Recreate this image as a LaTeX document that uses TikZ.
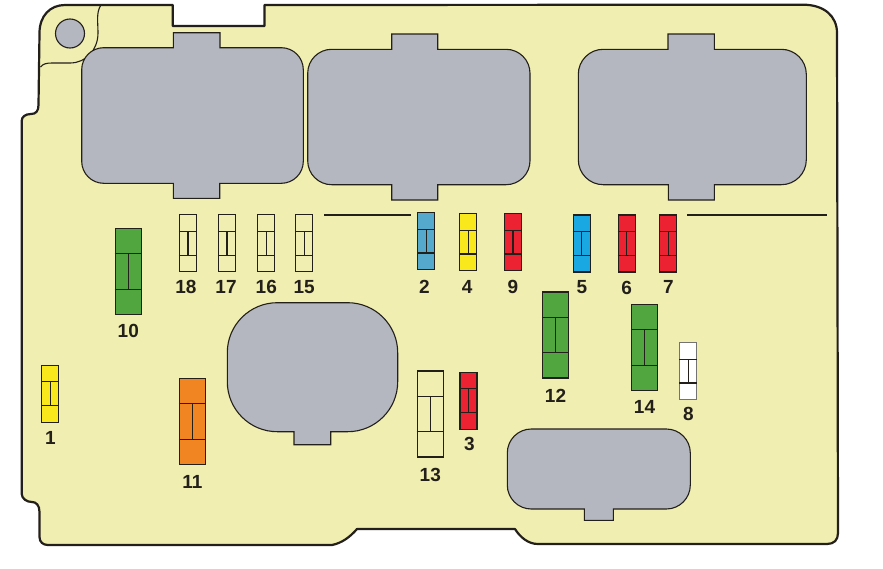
\documentclass[tikz,border=0pt]{standalone}
\usepackage{fontspec}
\setmainfont{Liberation Sans}
\usepackage{tikz}
\usetikzlibrary{positioning,calc}
\definecolor{boardcol}{HTML}{F0EEB0}
\definecolor{greycol}{HTML}{B4B7BF}
\definecolor{inkcol}{HTML}{231F1A}
\definecolor{greencol}{HTML}{51A63F}
\definecolor{tealcol}{HTML}{55A9CC}
\definecolor{cyancol}{HTML}{1AA8E2}
\definecolor{yellowcol}{HTML}{F9E81C}
\definecolor{redcol}{HTML}{EC2232}
\definecolor{orangecol}{HTML}{F08522}
\newcommand{\fuselines}[1]{
    \draw[fuseline] ($(#1.north west)!0.295!(#1.south west)$) -- ($(#1.north east)!0.295!(#1.south east)$);
    \draw[fuseline] ($(#1.north west)!0.705!(#1.south west)$) -- ($(#1.north east)!0.705!(#1.south east)$);
    \draw[fuseline] ($(#1.north)!0.295!(#1.south)$) -- ($(#1.north)!0.705!(#1.south)$);
}

\begin{document}
\begin{tikzpicture}[
x=1pt, y=-1pt,
board/.style={draw=inkcol, fill=boardcol, line width=2.2pt, line join=round},
thinline/.style={draw=inkcol, line width=1.1pt},
housing/.style={draw=inkcol, fill=greycol, line width=1.1pt},
fuseline/.style={draw=inkcol, line width=1.1pt},
smallfuse/.style={rectangle, draw=inkcol, line width=1.3pt, inner sep=0pt, minimum width=17pt, minimum height=57pt},
largefuse/.style={rectangle, draw=inkcol, line width=1.3pt, inner sep=0pt, minimum width=26pt, minimum height=86pt},
numlabel/.style={inner sep=0pt, text=inkcol, font=\fontsize{19}{21}\selectfont\bfseries}
]
    \useasboundingbox (0,0) rectangle (883,568);

    %Board
    \draw[board] (65,5) -- (172.7,5) -- (172.7,26) -- (264.5,26) -- (264.5,5) -- (803,4.7)
        .. controls (824,4.7) and (837,16) .. (837,33) -- (838,533)
        .. controls (838,540) and (834,544) .. (827,544) -- (538,544)
        .. controls (528,544) and (520,537) .. (515,529) -- (357,529)
        .. controls (350,537) and (342,543) .. (332,545) -- (48,545)
        .. controls (43,545) and (39.5,542) .. (39.5,537) -- (39.5,512)
        .. controls (39.5,505) and (36,502) .. (32,502)
        .. controls (27,502) and (22,499) .. (21.7,494) -- (21.7,121)
        .. controls (21.7,117) and (25,114) .. (31,114)
        .. controls (36,114) and (38.5,111) .. (38.5,105) -- (39.5,33)
        .. controls (39.5,16) and (50,5) .. (65,5) -- cycle;
    \draw[thinline] (40.5,67) .. controls (43,64) and (46,63) .. (52,63) -- (70,63)
        .. controls (86,63) and (98,50) .. (98,33) .. controls (98,22) and (96,12) .. (101,5);
    \draw[housing] (70,33.5) circle [radius=14.5pt];

    %Housings
    \draw[housing] (173.3,32.7) -- (220,32.7) -- (220,47.7) [rounded corners=22pt] -- (303.3,47.7)
        -- (303.3,183.3) [sharp corners] -- (219.7,183.3) -- (219.7,198.3) -- (173.3,198.3) -- (173.3,183.3)
        [rounded corners=22pt] -- (81.7,183.3) -- (81.7,47.7) [sharp corners] -- (173.3,47.7) -- cycle;
    \draw[housing] (391.7,34) -- (437.7,34) -- (437.7,49.3) [rounded corners=24pt] -- (530,49.3)
        -- (530,184.7) [sharp corners] -- (437.7,184.7) -- (437.7,200) -- (391.7,200) -- (391.7,184.7)
        [rounded corners=24pt] -- (307.7,184.7) -- (307.7,49.3) [sharp corners] -- (391.7,49.3) -- cycle;
    \draw[housing] (668,34) -- (714.3,34) -- (714.3,49.3) [rounded corners=25pt] -- (806.3,49.3)
        -- (806.3,184.7) [sharp corners] -- (714.3,184.7) -- (714.3,200) -- (668.3,200) -- (668.3,184.7)
        [rounded corners=25pt] -- (578.3,184.7) -- (578.3,49.3) [sharp corners] -- (668,49.3) -- cycle;
    \draw[housing] (312,302.7) [rounded corners=50pt] -- (397.7,302.7) -- (397.7,431.7) [sharp corners]
        -- (330.7,431.7) -- (330.7,444.7) -- (294,444.7) -- (294,431.7)
        [rounded corners=50pt] -- (227.3,431.7) -- (227.3,302.7) [sharp corners] -- cycle;
    \draw[housing] (598,429) [rounded corners=24pt] -- (690.3,429) -- (690.3,509) [sharp corners]
        -- (613.3,509) -- (613.3,520.3) -- (584.3,520.3) -- (584.3,509)
        [rounded corners=24pt] -- (507.3,509) -- (507.3,429) [sharp corners] -- cycle;

    %Nodes
    \node[smallfuse, fill=boardcol] (f18) at (188,243.3) {};
    \node[smallfuse, fill=boardcol] (f17) at (227,243.3) {};
    \node[smallfuse, fill=boardcol] (f16) at (266.3,243.3) {};
    \node[smallfuse, fill=boardcol] (f15) at (304.2,243.3) {};
    \node[largefuse, fill=greencol] (f10) at (128.3,271.3) {};
    \node[smallfuse, fill=tealcol] (f2) at (426.3,241) {};
    \node[smallfuse, fill=yellowcol] (f4) at (468.2,242) {};
    \node[smallfuse, fill=redcol] (f9) at (513,242) {};
    \node[smallfuse, fill=cyancol] (f5) at (581.8,243.5) {};
    \node[smallfuse, fill=redcol] (f6) at (626.7,243.5) {};
    \node[smallfuse, fill=redcol] (f7) at (668.3,243.5) {};
    \node[largefuse, fill=greencol] (f12) at (555.5,335) {};
    \node[largefuse, fill=greencol] (f14) at (644.5,347.5) {};
    \node[smallfuse, fill=white, draw=black!55] (f8) at (688.3,371) {};
    \node[smallfuse, fill=redcol] (f3) at (468.5,400.7) {};
    \node[largefuse, fill=boardcol] (f13) at (430.3,414) {};
    \node[smallfuse, fill=yellowcol] (f1) at (50.3,393.7) {};
    \node[largefuse, fill=orangecol] (f11) at (192.5,421.3) {};

    %Labels
    \node[numlabel, below=8pt of f18, xshift=-2pt] (n18) {18};
    \node[numlabel, below=8pt of f17, xshift=-1pt] (n17) {17};
    \node[numlabel, below=8pt of f16] (n16) {16};
    \node[numlabel, below=8pt of f15] (n15) {15};
    \node[numlabel, below=9pt of f10] (n10) {10};
    \node[numlabel, below=10pt of f2, xshift=-2pt] (n2) {2};
    \node[numlabel, below=9pt of f4, xshift=-1pt] (n4) {4};
    \node[numlabel, below=9pt of f9] (n9) {9};
    \node[numlabel, below=8pt of f5] (n5) {5};
    \node[numlabel, below=8pt of f6] (n6) {6};
    \node[numlabel, below=8pt of f7] (n7) {7};
    \node[numlabel, below=10pt of f12] (n12) {12};
    \node[numlabel, below=9pt of f14] (n14) {14};
    \node[numlabel, below=7pt of f8] (n8) {8};
    \node[numlabel, below=7pt of f3, xshift=1pt] (n3) {3};
    \node[numlabel, below=10pt of f13] (n13) {13};
    \node[numlabel, below=8pt of f1] (n1) {1};
    \node[numlabel, below=10pt of f11] (n11) {11};

    %Lines
    \fuselines{f18} \fuselines{f17} \fuselines{f16} \fuselines{f15} \fuselines{f10}
    \fuselines{f2} \fuselines{f4} \fuselines{f9} \fuselines{f5} \fuselines{f6} \fuselines{f7}
    \fuselines{f12} \fuselines{f14} \fuselines{f8} \fuselines{f3} \fuselines{f13}
    \fuselines{f1} \fuselines{f11}
    \coordinate (railAstart) at (324,215);
    \coordinate (railAend) at (410.7,215);
    \coordinate (railBstart) at (687,215);
    \coordinate (railBend) at (827,215);
    \draw[thinline] (railAstart) -- (railAend);
    \draw[thinline] (railBstart) -- (railBend);
\end{tikzpicture}
\end{document}
